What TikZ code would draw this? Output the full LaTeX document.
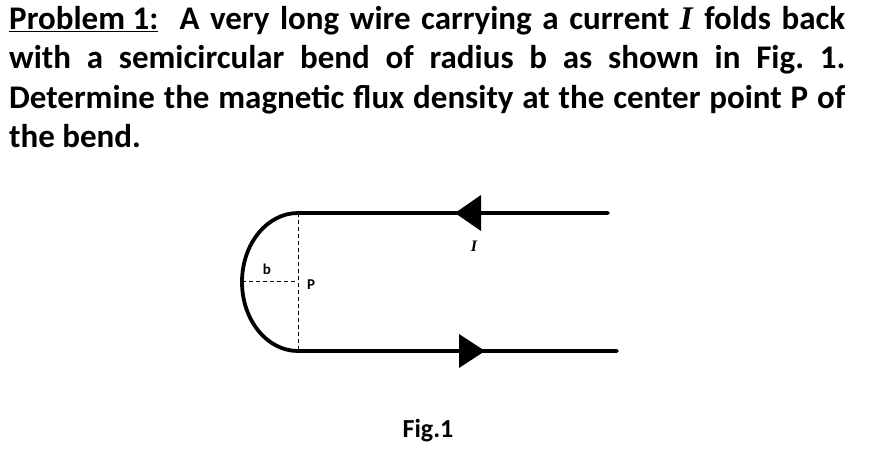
\documentclass[tikz,border=0pt]{standalone}
\usepackage{fontspec}
\setmainfont{Carlito}
\usetikzlibrary{arrows.meta}
\begin{document}
\begin{tikzpicture}[x=1pt,y=-1pt,
  wire/.style={line width=3.8pt,line cap=round},
  guide/.style={dashed,line width=0.6pt,dash pattern=on 4pt off 3pt},
  tri/.style={fill=black,draw=none}]
\useasboundingbox (0,0) rectangle (873,451);
\node[anchor=north west,inner sep=0pt,text width=836pt,align=justify,font=\fontsize{33}{39.5}\selectfont\bfseries] (txt) at (9,6)
 {\underline{Problem 1:}\ \ A very long wire carrying a current \textit{\fontspec{Liberation Serif}I} folds back\linebreak with a semicircular bend of radius b as shown in Fig.~1.\linebreak Determine the magnetic flux density at the center point P of\linebreak the bend.};
\coordinate (P) at (298,281);
\coordinate (T) at (298,213);
\coordinate (B) at (298,351);
\coordinate (TE) at (608,213);
\coordinate (BE) at (617,351);
\coordinate (L) at (242,281);
\draw[wire] (TE) -- (T) arc[start angle=-90,end angle=-270,x radius=56,y radius=69] -- (BE);
\draw[guide] (T) -- (B);
\draw[guide] (L) -- (P);
\fill[tri] (455,213) -- (481,195) -- (481,231) -- cycle;
\fill[tri] (485,351) -- (459,334) -- (459,368) -- cycle;
\node[font=\fontsize{16}{16}\selectfont\bfseries\itshape\fontspec{Liberation Serif}] (I) at (474,246) {I};
\node[font=\fontsize{15}{15}\selectfont\bfseries] (b) at (267,269) {b};
\node[font=\fontsize{15}{15}\selectfont\bfseries] (Pl) at (311,285) {P};
\node[font=\fontsize{26}{26}\selectfont\bfseries] (fig) at (428,431) {Fig.1};
\end{tikzpicture}
\end{document}
